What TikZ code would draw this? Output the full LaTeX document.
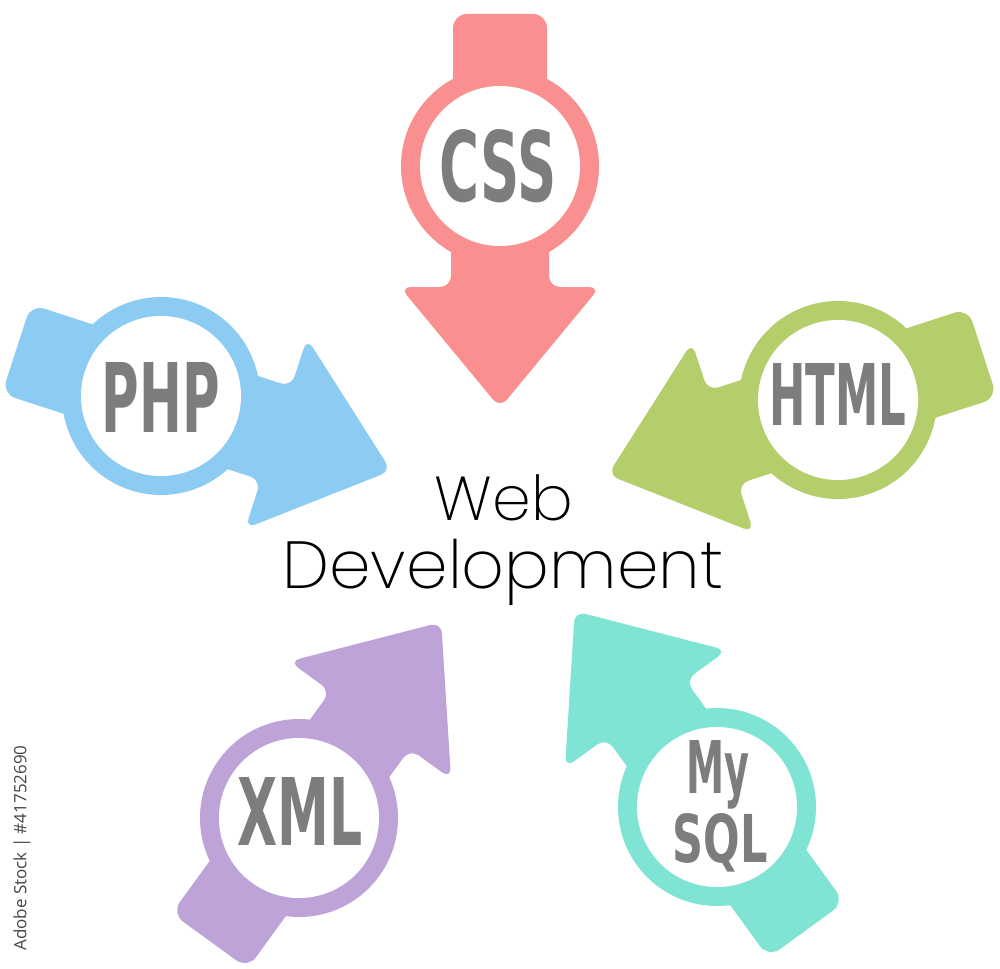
\documentclass[tikz,border=0pt]{standalone}
\usepackage{fontspec}
\usepackage{graphicx}
\newfontfamily\labelfont{DejaVu Sans Bold}
\newfontfamily\webfont{Poppins ExtraLight}
\newfontfamily\sidefont{Open Sans}
\definecolor{cssred}{RGB}{250,143,143}
\definecolor{phpblue}{RGB}{140,204,242}
\definecolor{htmlgreen}{RGB}{179,206,106}
\definecolor{xmlpurple}{RGB}{190,163,216}
\definecolor{sqlteal}{RGB}{127,228,212}
\definecolor{labelgray}{RGB}{125,125,125}
\definecolor{sidegray}{RGB}{70,70,70}
\tikzset{
  lbl/.style={inner sep=0pt, outer sep=0pt, text=labelgray},
  webtxt/.style={inner sep=0pt, outer sep=0pt, anchor=base, text=black},
}
\newcommand\webarrow[4]{%
  \begin{scope}[shift={(#1,#2)}, rotate=#3]
    \fill[#4, rounded corners=14pt] (-60,-47) -- (-152,-47) -- (-152,47) -- (-60,47) -- cycle;
    \fill[#4] (0,0) circle (99);
    \fill[#4, rounded corners=11pt] (0,-49) -- (121,-49) -- (121,-100) -- (242,0) -- (121,100) -- (121,49) -- (0,49) -- cycle;
    \fill[white] (0,0) circle (80);
  \end{scope}}
\begin{document}
\begin{tikzpicture}[x=1pt,y=-1pt]
  \fill[white] (0,0) rectangle (1000,968);
  \useasboundingbox (0,0) rectangle (1000,968);
  % arrows
  \webarrow{500}{166}{-90}{cssred}
  \webarrow{161}{396}{-18}{phpblue}
  \webarrow{838}{400}{-162}{htmlgreen}
  \webarrow{299}{818}{54}{xmlpurple}
  \webarrow{717}{807}{126}{sqlteal}
  % labels
  \node[lbl] (css) at (498,166) {\resizebox{117pt}{72pt}{\labelfont CSS}};
  \node[lbl] (php) at (161,397) {\resizebox{118pt}{70pt}{\labelfont PHP}};
  \node[lbl] (html) at (838,394) {\resizebox{137pt}{62pt}{\labelfont HTML}};
  \node[lbl] (xml) at (300,811) {\resizebox{125pt}{68pt}{\labelfont XML}};
  \node[lbl, anchor=base] (my) at (718,793) {\resizebox{63pt}{53pt}{\labelfont My}};
  \node[lbl, anchor=base] (sql) at (720,862) {\resizebox{95pt}{49pt}{\labelfont SQL}};
  % centre title
  \node[webtxt] (web) at (504,520) {\resizebox{138pt}{!}{\webfont Web}};
  \node[webtxt] (dev) at (503,588) {\resizebox{441pt}{!}{\webfont Development}};
  % side credit
  \node[inner sep=0pt, rotate=90, text=sidegray] (credit) at (22,848) {\resizebox{205pt}{!}{\sidefont Adobe Stock | \#41752690}};
\end{tikzpicture}
\end{document}
